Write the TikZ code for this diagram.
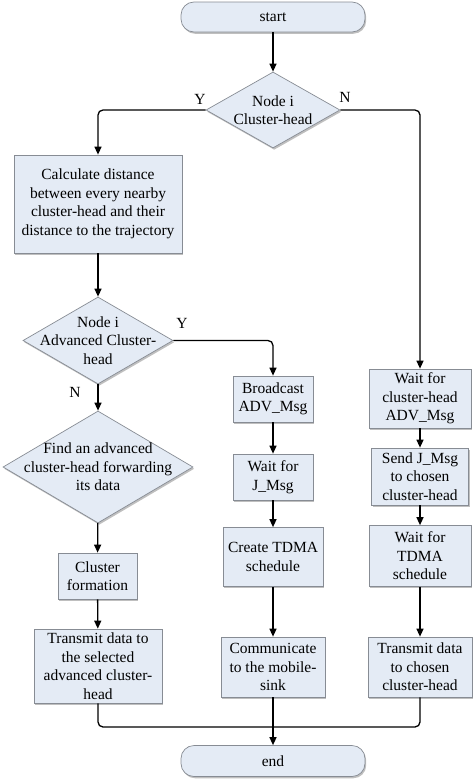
\documentclass[tikz,border=0pt]{standalone}
\usepackage{fontspec}
\setmainfont{Liberation Serif}
\usetikzlibrary{shapes.geometric,arrows.meta,shadows,calc}
\definecolor{boxfill}{RGB}{228,235,245}
\definecolor{boxline}{RGB}{135,140,148}
\begin{document}
\begin{tikzpicture}[x=1pt,y=-1pt,
  font=\fontsize{15.5}{18.5}\selectfont,
  shapefill/.style={draw=boxline, line width=0.7pt, fill=boxfill,
     drop shadow={shadow xshift=1.2pt, shadow yshift=-1.8pt, fill=gray!50, opacity=1}},
  procbox/.style={shapefill, rectangle, inner sep=0pt, align=center},
  term/.style={shapefill, rectangle, rounded corners=13pt, inner sep=0pt, minimum width=184pt},
  dia/.style={shapefill, diamond, inner sep=0pt},
  txt/.style={align=center, inner sep=0pt},
  arr/.style={line width=1.3pt, -{Triangle[length=8pt,width=7pt]}},
  ln/.style={line width=1.3pt},
  lab/.style={inner sep=0pt}
]
\useasboundingbox (0,0) rectangle (474,779);

% terminals
\node[term, minimum height=30pt] (start) at (273,17) {start};
\node[term, minimum height=31pt] (end) at (273,761) {end};

% decision 1
\node[dia, minimum width=134pt, minimum height=76pt] (d1) at (273,110) {};
\node[txt] (d1t) at (273,110) {Node i\\Cluster-head};

% left column
\node[procbox, minimum width=168pt, minimum height=98pt] (calc) at (98,204)
  {Calculate distance\\between every nearby\\cluster-head and their\\distance to the trajectory};
\node[dia, minimum width=150pt, minimum height=87pt] (d2) at (98,340.5) {};
\node[txt] (d2t) at (98,340.5) {Node i\\Advanced Cluster-\\head};
\node[dia, minimum width=190pt, minimum height=112pt] (find) at (98,467) {};
\node[txt] (findt) at (98,467) {Find an advanced\\cluster-head forwarding\\its data};
\node[procbox, minimum width=79pt, minimum height=46pt] (clus) at (97.5,576) {Cluster\\formation};
\node[procbox, minimum width=128pt, minimum height=74pt] (tx1) at (98,666)
  {Transmit data to\\the selected\\advanced cluster-\\head};

% middle column
\node[procbox, minimum width=80pt, minimum height=46pt] (bcast) at (273,399) {Broadcast\\ADV\_Msg};
\node[procbox, minimum width=80pt, minimum height=46pt] (waitj) at (273,477) {Wait for\\J\_Msg};
\node[procbox, minimum width=100pt, minimum height=59pt] (tdma) at (273,557) {Create TDMA\\schedule};
\node[procbox, minimum width=104pt, minimum height=60pt] (comm) at (273,667) {Communicate\\to the mobile-\\sink};

% right column
\node[procbox, minimum width=102pt, minimum height=59pt] (waitch) at (420,398.5) {Wait for\\cluster-head\\ADV\_Msg};
\node[procbox, minimum width=97pt, minimum height=57pt] (send) at (420,476.5) {Send J\_Msg\\to chosen\\cluster-head};
\node[procbox, minimum width=102pt, minimum height=61pt] (waittd) at (420,556) {Wait for\\TDMA\\schedule};
\node[procbox, minimum width=104pt, minimum height=60pt] (tx2) at (420,667) {Transmit data\\to chosen\\cluster-head};

\coordinate (m) at (273,727);

% connectors
\draw[arr] (start) -- (d1);
\draw[arr, rounded corners=5pt] (d1.west) -| (calc.north);
\draw[arr, rounded corners=5pt] (d1.east) -| (waitch.north);
\draw[arr] (calc) -- (d2);
\draw[arr, rounded corners=5pt] (d2.east) -| (bcast.north);
\draw[arr] (d2) -- (find);
\draw[arr] (find) -- (clus);
\draw[arr] (clus) -- (tx1);
\draw[arr] (bcast) -- (waitj);
\draw[arr] (waitj) -- (tdma);
\draw[arr] (tdma) -- (comm);
\draw[arr] (waitch) -- (send);
\draw[arr] (send) -- (waittd);
\draw[arr] (waittd) -- (tx2);
\draw[ln, rounded corners=5pt] (tx1.south) |- (m);
\draw[ln, rounded corners=5pt] (tx2.south) |- (m);
\draw[arr] (comm) -- (end);

% labels
\node[lab] (ly1) at (200,99) {Y};
\node[lab] (ln1) at (345,97) {N};
\node[lab] (ly2) at (182,323) {Y};
\node[lab] (ln2) at (75,392) {N};
\end{tikzpicture}
\end{document}
